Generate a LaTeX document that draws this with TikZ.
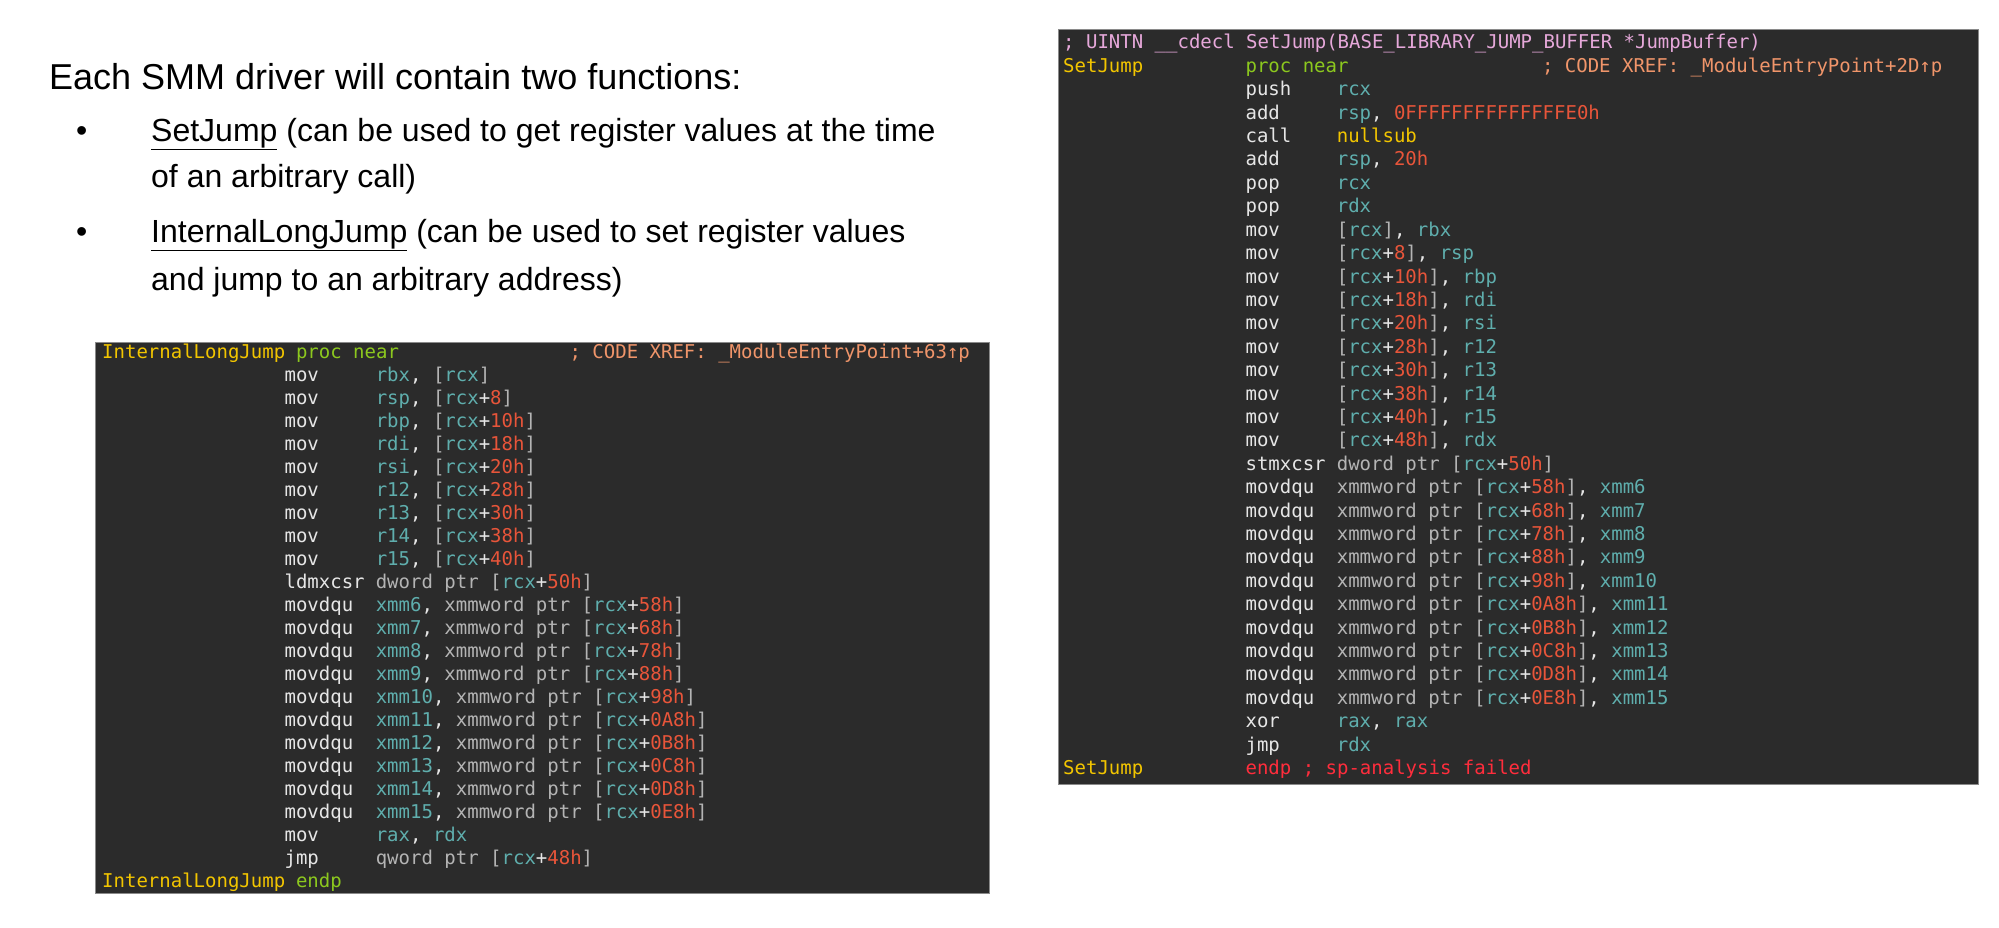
\documentclass[tikz,border=0pt]{standalone}
\usepackage{fontspec}
\setmainfont{Liberation Sans}
\newfontfamily\codefont{DejaVu Sans Mono}
\definecolor{bgc}{HTML}{2B2B2B}
\definecolor{bord}{HTML}{8A8A8A}
\definecolor{yel}{HTML}{F2C500}
\definecolor{grn}{HTML}{8CC81E}
\definecolor{wht}{HTML}{E6E6E6}
\definecolor{teal}{HTML}{5FAEAD}
\definecolor{numc}{HTML}{E8553A}
\definecolor{gryc}{HTML}{B4B4B4}
\definecolor{cmt}{HTML}{F0956A}
\definecolor{pnk}{HTML}{E6A8DA}
\definecolor{redc}{HTML}{FF2D3C}
\newcommand\cR[1]{\textcolor{teal}{#1}}
\newcommand\cN[1]{\textcolor{numc}{#1}}
\newcommand\cG[1]{\textcolor{gryc}{#1}}
\newcommand\cM[2]{\cG{[}\cR{#1}+\cN{#2}\cG{]}}
\newcommand\cZ[1]{\cG{[}\cR{#1}\cG{]}}
\tikzset{
  x=1pt,y=-1pt,
  code/.style={anchor=base west,inner sep=0pt,text=wht,font=\codefont\fontsize{19}{23}\selectfont},
  panel/.style={fill=bgc,draw=bord,line width=1.2pt},
  prose/.style={anchor=west,inner sep=0pt,font=\fontsize{32}{38}\selectfont},
}
\newcommand\aline[6]{% name, x0, y(center), label, mnem, ops
  \node[code] (#1a) at (#2,#3+6) {#4};
  \node[code] (#1b) at (#2+182.4,#3+6) {#5};
  \node[code] (#1c) at (#2+273.6,#3+6) {#6};}
\begin{document}
\begin{tikzpicture}
\useasboundingbox (0,0) rectangle (1999,928);
% prose
\node[prose,font=\fontsize{36}{40}\selectfont] (head) at (49,77) {Each SMM driver will contain two functions:};
\node[prose] (b1) at (76,134) {•};
\node[prose] (t1) at (151,134) {\underline{SetJump} (can be used to get register values at the time};
\node[prose] (t2) at (151,179) {of an arbitrary call)};
\node[prose] (b2) at (76,235) {•};
\node[prose] (t3) at (151,235) {\underline{InternalLongJump} (can be used to set register values};
\node[prose] (t4) at (151,282) {and jump to an arbitrary address)};
% right panel
\node[panel,minimum width=920,minimum height=755,anchor=north west,inner sep=0pt] (rp) at (1058,29) {};
\node[code,text=pnk] (r0) at (1063,49) {; UINTN \_\_cdecl SetJump(BASE\_LIBRARY\_JUMP\_BUFFER *JumpBuffer)};
\node[code,text=yel] (r1a) at (1063,72.4) {SetJump};
\node[code,text=grn] (r1b) at (1245.4,72.4) {proc near};
\node[code,text=cmt] (r1c) at (1541.8,72.4) {; CODE XREF: \_ModuleEntryPoint+2D↑p};
\aline{r2}{1063}{89.8}{}{push}{\cR{rcx}}
\aline{r3}{1063}{113.2}{}{add}{\cR{rsp}, \cN{0FFFFFFFFFFFFFFE0h}}
\aline{r4}{1063}{136.6}{}{call}{\textcolor{yel}{nullsub}}
\aline{r5}{1063}{160}{}{add}{\cR{rsp}, \cN{20h}}
\aline{r6}{1063}{183.4}{}{pop}{\cR{rcx}}
\aline{r7}{1063}{206.8}{}{pop}{\cR{rdx}}
\aline{r8}{1063}{230.2}{}{mov}{\cZ{rcx}, \cR{rbx}}
\aline{r9}{1063}{253.6}{}{mov}{\cM{rcx}{8}, \cR{rsp}}
\foreach \o/\r [count=\k] in {10h/rbp,18h/rdi,20h/rsi,28h/r12,30h/r13,38h/r14,40h/r15,48h/rdx}{
  \aline{rm\k}{1063}{253.6+23.4*\k}{}{mov}{\cM{rcx}{\o}, \cR{\r}}
}
\aline{r18}{1063}{464.2}{}{stmxcsr}{\cG{dword ptr} \cM{rcx}{50h}}
\foreach \o/\r [count=\k] in {58h/6,68h/7,78h/8,88h/9,98h/10,0A8h/11,0B8h/12,0C8h/13,0D8h/14,0E8h/15}{
  \aline{rx\k}{1063}{464.2+23.4*\k}{}{movdqu}{\cG{xmmword ptr} \cM{rcx}{\o}, \cR{xmm\r}}
}
\aline{r29}{1063}{721.6}{}{xor}{\cR{rax}, \cR{rax}}
\aline{r30}{1063}{745}{}{jmp}{\cR{rdx}}
\node[code,text=yel] (r31a) at (1063,774.4) {SetJump};
\node[code,text=redc] (r31b) at (1245.4,774.4) {endp ; sp-analysis failed};
% left panel
\node[panel,minimum width=894,minimum height=551,anchor=north west,inner sep=0pt] (lp) at (95,342) {};
\node[code,text=yel] (l0a) at (102,358) {InternalLongJump};
\node[code,text=grn] (l0b) at (295.8,358) {proc near};
\node[code,text=cmt] (l0c) at (569.4,358) {; CODE XREF: \_ModuleEntryPoint+63↑p};
\aline{l1}{102}{375}{}{mov}{\cR{rbx}, \cZ{rcx}}
\aline{l2}{102}{398}{}{mov}{\cR{rsp}, \cM{rcx}{8}}
\foreach \o/\r [count=\k] in {10h/rbp,18h/rdi,20h/rsi,28h/r12,30h/r13,38h/r14,40h/r15}{
  \aline{lm\k}{102}{398+23*\k}{}{mov}{\cR{\r}, \cM{rcx}{\o}}
}
\aline{l10}{102}{582}{}{ldmxcsr}{\cG{dword ptr} \cM{rcx}{50h}}
\foreach \o/\r [count=\k] in {58h/6,68h/7,78h/8,88h/9,98h/10,0A8h/11,0B8h/12,0C8h/13,0D8h/14,0E8h/15}{
  \aline{lx\k}{102}{582+23*\k}{}{movdqu}{\cR{xmm\r}, \cG{xmmword ptr} \cM{rcx}{\o}}
}
\aline{l21}{102}{835}{}{mov}{\cR{rax}, \cR{rdx}}
\aline{l22}{102}{858}{}{jmp}{\cG{qword ptr} \cM{rcx}{48h}}
\node[code,text=yel] (l23a) at (102,887) {InternalLongJump};
\node[code,text=grn] (l23b) at (295.8,887) {endp};
\end{tikzpicture}
\end{document}
